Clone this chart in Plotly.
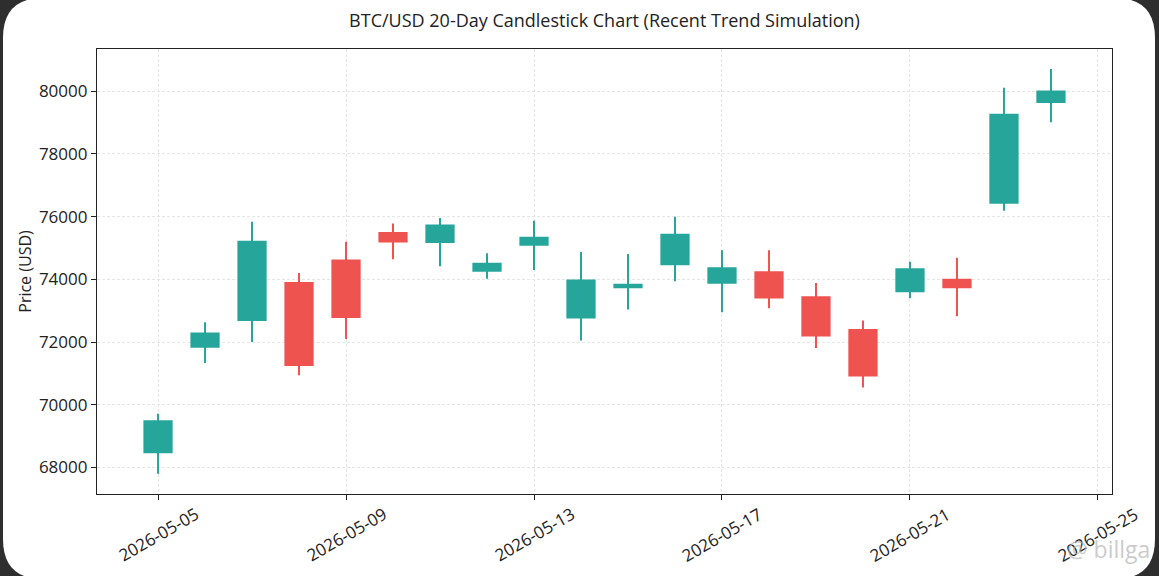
import plotly.graph_objects as go

# daily OHLC values
dates = ['2026-05-05', '2026-05-06', '2026-05-07', '2026-05-08', '2026-05-09',
         '2026-05-10', '2026-05-11', '2026-05-12', '2026-05-13', '2026-05-14',
         '2026-05-15', '2026-05-16', '2026-05-17', '2026-05-18', '2026-05-19',
         '2026-05-20', '2026-05-21', '2026-05-22', '2026-05-23', '2026-05-24']
opens = [68480, 71850, 72700, 73880, 74600, 75480, 75190, 74270, 75100, 72780,
         73750, 74480, 73890, 74230, 73430, 72380, 73620, 73990, 76440, 79660]
highs = [69710, 72630, 75840, 74200, 75200, 75780, 75960, 74830, 75870, 74870,
         74810, 76000, 74930, 74930, 73880, 72690, 74560, 74690, 80110, 80710]
lows = [67800, 71330, 72000, 70940, 72100, 74640, 74420, 74020, 74300, 72050,
        73040, 73940, 72950, 73080, 71810, 70550, 73400, 72820, 76190, 79010]
closes = [69470, 72270, 75200, 71270, 72800, 75210, 75720, 74500, 75330, 73960,
          73830, 75420, 74350, 73420, 72210, 70930, 74320, 73750, 79250, 79990]

x_ticks = ['2026-05-05', '2026-05-09', '2026-05-13', '2026-05-17', '2026-05-21', '2026-05-25']
y_ticks = [68000, 70000, 72000, 74000, 76000, 78000, 80000]

UP = '#26a69a'
DOWN = '#ef5350'
FONT = 'Open Sans'
INK = '#222222'

W, H = 1159, 576
ML, MR, MT, MB = 97, 47, 49, 82


def px2paper(px, py):
    # pixel position in the page -> paper coordinates
    return (px - ML) / (W - ML - MR), (H - MB - py) / (H - MT - MB)


def card_path(x0, y0, x1, y1, r):
    pts = [
        ('M', [(x0 + r, y0)]), ('L', [(x1 - r, y0)]), ('Q', [(x1, y0), (x1, y0 + r)]),
        ('L', [(x1, y1 - r)]), ('Q', [(x1, y1), (x1 - r, y1)]),
        ('L', [(x0 + r, y1)]), ('Q', [(x0, y1), (x0, y1 - r)]),
        ('L', [(x0, y0 + r)]), ('Q', [(x0, y0), (x0 + r, y0)]),
    ]
    out = []
    for cmd, coords in pts:
        s = ' '.join('%.5f,%.5f' % px2paper(a, b) for a, b in coords)
        out.append(cmd + s)
    return ' '.join(out) + ' Z'


fig = go.Figure()

fig.add_trace(go.Candlestick(
    x=dates, open=opens, high=highs, low=lows, close=closes,
    increasing=dict(line=dict(color=UP, width=2), fillcolor=UP),
    decreasing=dict(line=dict(color=DOWN, width=2), fillcolor=DOWN),
    whiskerwidth=0,
    showlegend=False,
))

# white rounded card on the dark page
fig.add_shape(type='path', xref='paper', yref='paper', layer='below',
              path=card_path(3, -2, 1155, 579, 40),
              fillcolor='white', line=dict(width=0))

# date labels rotated 30 degrees and centred under their ticks (matplotlib style)
label_y = px2paper(0, 534)[1]
for d in x_ticks:
    fig.add_annotation(text=d, x=d, xref='x', y=label_y, yref='paper',
                       xanchor='center', yanchor='middle', textangle=-30,
                       showarrow=False, font=dict(family=FONT, size=17, color=INK))

fig.add_annotation(text='@ billga', xref='paper', yref='paper',
                   x=px2paper(1108, 0)[0], y=px2paper(0, 549)[1],
                   xanchor='center', yanchor='middle', showarrow=False,
                   font=dict(family=FONT, size=23, color='rgba(180,180,180,0.7)'))

fig.update_layout(
    width=W, height=H,
    margin=dict(l=ML, r=MR, t=MT, b=MB, pad=0),
    paper_bgcolor='#2e2e2e',
    plot_bgcolor='white',
    font=dict(family=FONT, size=17, color=INK),
    title=dict(text='BTC/USD 20-Day Candlestick Chart (Recent Trend Simulation)',
               x=0.5, xref='paper', xanchor='center', y=1 - 21 / H, yanchor='middle',
               font=dict(family=FONT, size=18, color=INK)),
    boxgap=0.42, boxgroupgap=0,
    showlegend=False,
)

fig.update_xaxes(
    type='date',
    range=['2026-05-03 16:50', '2026-05-25 07:10'],
    rangeslider_visible=False,
    tickmode='array', tickvals=x_ticks, showticklabels=False,
    ticks='outside', ticklen=5, tickcolor=INK, tickwidth=1,
    showline=True, linecolor=INK, linewidth=1.2, mirror=True,
    showgrid=True, gridcolor='#e6e6e6', gridwidth=1, griddash='3px,2px',
    zeroline=False,
)

fig.update_yaxes(
    range=[67150, 81350],
    tickmode='array', tickvals=y_ticks, ticktext=[str(v) for v in y_ticks],
    tickfont=dict(family=FONT, size=17, color=INK),
    ticks='outside', ticklen=5, tickcolor=INK, tickwidth=1,
    showline=True, linecolor=INK, linewidth=1.2, mirror=True,
    showgrid=True, gridcolor='#e6e6e6', gridwidth=1, griddash='3px,2px',
    zeroline=False,
    title=dict(text='Price (USD)', font=dict(family=FONT, size=16, color=INK),
               standoff=3),
)

# the page body has a default 8px margin; drop it so the figure fills the window
fig.write_html('out.html', config={'displayModeBar': False},
               post_script="document.body.style.margin='0';")
